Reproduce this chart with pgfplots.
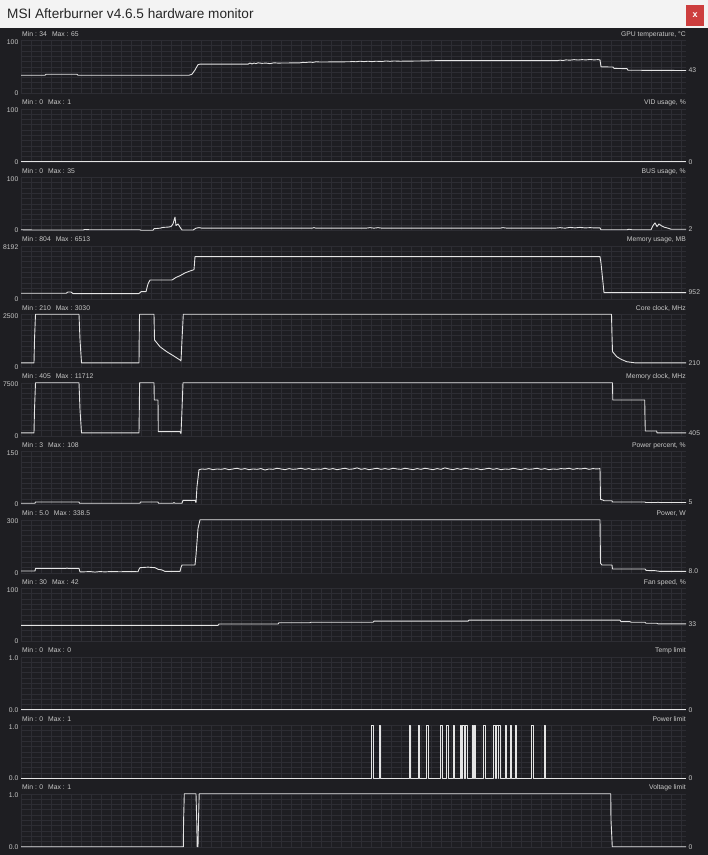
\documentclass[border=0pt]{standalone}
\usepackage{pgfplots}
\pgfplotsset{compat=1.18}
\usepackage{fontspec}
\setmainfont{Liberation Sans}
\definecolor{bgc}{RGB}{30,30,34}
\definecolor{gridc}{RGB}{45,45,51}
\definecolor{linec}{RGB}{228,228,228}
\definecolor{textc}{RGB}{200,200,200}
\definecolor{titlebar}{RGB}{243,243,243}
\definecolor{closered}{RGB}{205,62,62}
\pgfplotsset{panel/.style={width=665pt,height=53pt,scale only axis,xmin=21,xmax=686,ymin=0,
  clip=false,axis line style={draw=none},tick style={draw=none},xticklabels={},yticklabels={},
  xtick={21,31,...,681},grid=major,major grid style={draw=gridc,line width=0.45pt},anchor=south west},
  dline/.style={draw=linec,line width=0.9pt,line join=round,mark=none}}
\tikzset{lab/.style={text=textc,font=\fontsize{6.8}{8}\selectfont,inner sep=0pt}}
\newcommand{\plabels}[5]{%
  \node[lab,anchor=base west,xshift=1pt,yshift=4.2pt] at (rel axis cs:0,1) {#1};
  \node[lab,anchor=base east,yshift=4.2pt] at (rel axis cs:1,1) {#2};
  \node[lab,anchor=east,xshift=-2.5pt,yshift=-1.5pt] at (rel axis cs:0,1) {#3};
  \node[lab,anchor=east,xshift=-2.5pt] at (rel axis cs:0,0) {#4};
  \node[lab,anchor=west,xshift=2.5pt] at (axis cs:686,#5) {#5};}
\begin{document}
\begin{tikzpicture}[x=1pt,y=1pt]
\useasboundingbox (0,0) rectangle (708,855);
\fill[bgc] (0,0) rectangle (708,855);
\fill[titlebar] (0,827) rectangle (708,855);
\node[anchor=west,font=\fontsize{13.6}{15}\selectfont,text=black!85,inner sep=0pt] at (7,841) {MSI Afterburner v4.6.5 hardware monitor};
\fill[closered] (686,829) rectangle (704,850);
\node[text=white,font=\fontsize{9}{10}\selectfont\bfseries,inner sep=0pt] at (695,839.5) {x};
% 1 GPU temperature
\begin{axis}[panel,at={(21pt,761.7pt)},ymax=100,ytick={0,10,...,100}]
\addplot[dline] coordinates {(21,34)(45,34)(46,36)(77,36)(78,34)(189,34)(192,36)(195,44)(198,54)(200,55)(248,55)(250,57)(252,55.5)(254,57)(256,56)(258,57.5)(262,56.5)(266,57)(270,56)(274,57.5)(278,57)(300,57.5)(303,58.5)(305,58)(310,59)(313,58.3)(316,59.5)(320,59)(350,59.5)(352,60)(356,59.5)(360,60.5)(364,59.8)(368,60.5)(372,59.8)(376,60.5)(382,60)(386,61)(390,60.3)(394,61)(400,60.5)(420,61)(435,61.5)(557,61.5)(560,62.5)(563,61.8)(566,63)(570,62.5)(574,63.5)(578,62.8)(582,63.5)(586,63)(590,63.8)(594,63)(598,63.5)(600,63)(601,50)(613,49.5)(614,47)(627,46.5)(628,43.5)(686,43)};
\plabels{Min : 34\hspace{5pt}Max : 65}{GPU temperature, °C}{100}{0}{43}
\end{axis}
% 2 VID usage
\begin{axis}[panel,at={(21pt,693.2pt)},ymax=100,ytick={0,10,...,100}]
\addplot[dline] coordinates {(21,0)(686,0)};
\plabels{Min : 0\hspace{5pt}Max : 1}{VID usage, \%}{100}{0}{0}
\end{axis}
% 3 BUS usage
\begin{axis}[panel,at={(21pt,624.7pt)},ymax=100,ytick={0,10,...,100}]
\addplot[dline] coordinates {(21,1)(36,0.5)(83,0.5)(85,1.5)(90,1)(140,1)(141,0)(153,0)(154,3)(160,4)(163,5.5)(168,6)(171,7)(173,12)(175,25)(176,9)(178,12)(180,6)(182,0.5)(193,0.5)(196,4)(199,5)(202,4)(312,4)(314,5)(316,4)(366,4)(370,5)(374,4)(378,5)(382,4)(500,4)(503,5)(507,4)(555,4)(560,5)(565,4)(570,5.5)(575,4.5)(580,5.5)(585,4.5)(590,5)(595,4.5)(600,4.5)(601,1)(627,1)(629,2)(632,1)(651,1)(653,9)(655,14)(657,7)(659,12)(661,9)(664,6)(668,4)(671,2)(686,2)};
\plabels{Min : 0\hspace{5pt}Max : 35}{BUS usage, \%}{100}{0}{2}
\end{axis}
% 4 Memory usage
\begin{axis}[panel,at={(21pt,556.2pt)},ymax=8192,ytick={0,819.2,...,8192}]
\addplot[dline] coordinates {(21,850)(66,850)(68,1050)(71,1050)(73,804)(139,804)(141,1100)(146,1100)(148,2300)(150,2900)(172,2900)(176,3300)(180,3570)(185,4000)(190,4300)(194,4500)(195,6513)(600,6513)(601,5500)(603,2500)(604,952)(686,952)};
\plabels{Min : 804\hspace{5pt}Max : 6513}{Memory usage, MB}{8192}{0}{952}
\end{axis}
% 5 Core clock
\begin{axis}[panel,at={(21pt,487.7pt)},ymax=2500,ytick={0,250,...,2500}]
\addplot[dline] coordinates {(21,210)(34,210)(34.5,1300)(35.5,2500)(79,2500)(80,1300)(81.5,210)(139,210)(139.2,1300)(139.5,2500)(154,2500)(154.5,1290)(160,970)(166.7,736)(173.3,547)(180,344)(181,300)(182,1300)(183.3,2500)(611.5,2500)(612,1500)(612.5,740)(616.7,500)(621,380)(626.7,264)(635,210)(686,210)};
\plabels{Min : 210\hspace{5pt}Max : 3030}{Core clock, MHz}{2500}{0}{210}
\end{axis}
% 6 Memory clock
\begin{axis}[panel,at={(21pt,419.2pt)},ymax=7500,ytick={0,750,...,7500}]
\addplot[dline] coordinates {(21,405)(34,405)(34.5,3700)(35.5,7500)(79,7500)(80,3700)(81.5,405)(139,405)(139.3,3700)(139.6,7500)(154,7500)(154.3,5066)(158,5066)(158.3,580)(180,580)(181,300)(182,3700)(183,7500)(612.5,7500)(612.8,5066)(644.7,5066)(645,2500)(645.3,680)(656.7,680)(657,405)(686,405)};
\plabels{Min : 405\hspace{5pt}Max : 11712}{Memory clock, MHz}{7500}{0}{405}
\end{axis}
% 7 Power percent
\begin{axis}[panel,at={(21pt,350.7pt)},ymax=150,ytick={0,15,...,150}]
\addplot[dline] coordinates {(21,3)(35,3)(35.5,6.5)(79,6.5)(79.5,3)(140,3)(140.5,6.5)(158,6.5)(158.5,3)(173,3)(174,5)(175,3)(182,3)(183,11)(195,11)(196,5)(197,50)(199,98)(202,100)(205,99)(209,101)(213,98)(217,100)(221,99)(225,101)(229,98)(233,100)(237,102)(241,99)(245,101)(249,98)(253,100)(257,99)(261,101)(265,97)(269,100)(273,99)(277,102)(281,100)(285,98)(289,101)(293,99)(297,100)(301,102)(305,99)(309,101)(313,98)(317,100)(321,99)(325,102)(329,99)(333,101)(337,98)(341,100)(345,102)(349,99)(353,100)(357,103)(361,99)(365,101)(369,98)(373,100)(377,102)(381,99)(385,101)(389,99)(393,102)(397,100)(401,99)(405,102)(409,100)(413,98)(417,101)(421,99)(425,102)(429,100)(433,98)(437,101)(441,99)(445,103)(449,100)(453,98)(457,101)(461,99)(465,102)(469,100)(473,99)(477,101)(481,98)(485,100)(489,102)(493,99)(497,101)(501,98)(505,100)(509,99)(513,102)(517,100)(521,98)(525,101)(529,99)(533,100)(537,102)(541,99)(545,101)(549,98)(553,100)(557,99)(561,101)(565,100)(569,102)(573,99)(577,101)(581,100)(585,102)(589,99)(593,101)(597,100)(600,101)(600.5,14)(603,12)(604,10)(612,10)(612.5,6.5)(645,6.5)(645.5,5)(657,5)(658,6)(659,5)(686,5)};
\plabels{Min : 3\hspace{5pt}Max : 108}{Power percent, \%}{150}{0}{5}
\end{axis}
% 8 Power
\begin{axis}[panel,at={(21pt,282.2pt)},ymax=300,ytick={0,30,...,300}]
\addplot[dline] coordinates {(21,10)(35,10)(35.5,25)(66,25)(67,27)(68,25)(79,25)(80,5)(82,5)(90,7)(95,4)(100,7)(105,5)(110,7)(120,6)(130,7)(138,6)(139,20)(140,29)(148,32)(155,29)(158,20)(162,16)(165,8)(180,8)(181,30)(182,44)(195,44)(196,100)(198,250)(200,300)(600,300)(600.5,54)(602,44)(612,44)(612.5,21.5)(645,21.5)(646,14)(650,12)(655,12)(660,8)(686,8)};
\plabels{Min : 5.0\hspace{5pt}Max : 338.5}{Power, W}{300}{0}{8.0}
\end{axis}
% 9 Fan speed
\begin{axis}[panel,at={(21pt,213.7pt)},ymax=100,ytick={0,10,...,100}]
\addplot[dline] coordinates {(21,30)(218,30)(219,32.6)(278,32.6)(279,35)(310,35)(311,36)(373,36)(374,38)(468,38)(469,40)(620,40)(621,37)(630,37)(631,36)(645,36)(646,34)(657,34)(658,33)(686,33)};
\plabels{Min : 30\hspace{5pt}Max : 42}{Fan speed, \%}{100}{0}{33}
\end{axis}
% 10 Temp limit
\begin{axis}[panel,at={(21pt,145.2pt)},ymax=1,ytick={0,0.1,...,1}]
\addplot[dline] coordinates {(21,0)(686,0)};
\plabels{Min : 0\hspace{5pt}Max : 0}{Temp limit}{1.0}{0.0}{0}
\end{axis}
% 11 Power limit
\begin{axis}[panel,at={(21pt,76.7pt)},ymax=1,ytick={0,0.1,...,1}]
\addplot[dline,line width=0.7pt] coordinates {(21,0)(371.7,0)(371.7,1)(372.9,1)(372.9,0)(379.1,0)(379.1,1)(380.3,1)(380.3,0)(409.4,0)(409.4,1)(410.6,1)(410.6,0)(418.4,0)(418.4,1)(419.6,1)(419.6,0)(426.7,0)(426.7,1)(427.9,1)(427.9,0)(440.1,0)(440.1,1)(442.6,1)(442.6,0)(446.7,0)(446.7,1)(447.9,1)(447.9,0)(453.1,0)(453.1,1)(454.3,1)(454.3,0)(460.1,0)(460.1,1)(461.3,1)(461.3,0)(462.7,0)(462.7,1)(463.9,1)(463.9,0)(465.7,0)(465.7,1)(466.9,1)(466.9,0)(472.4,0)(472.4,1)(473.6,1)(473.6,0)(474.4,0)(474.4,1)(475.6,1)(475.6,0)(483.7,0)(483.7,1)(484.9,1)(484.9,0)(493.7,0)(493.7,1)(494.9,1)(494.9,0)(495.1,0)(495.1,1)(496.3,1)(496.3,0)(496.7,0)(496.7,1)(497.9,1)(497.9,0)(498.7,0)(498.7,1)(499.9,1)(499.9,0)(505.4,0)(505.4,1)(506.6,1)(506.6,0)(510.4,0)(510.4,1)(511.6,1)(511.6,0)(515.1,0)(515.1,1)(516.3,1)(516.3,0)(531.7,0)(531.7,1)(532.9,1)(532.9,0)(544.4,0)(544.4,1)(545.6,1)(545.6,0)(686,0)};
\plabels{Min : 0\hspace{5pt}Max : 1}{Power limit}{1.0}{0.0}{0}
\end{axis}
% 12 Voltage limit
\begin{axis}[panel,at={(21pt,8.2pt)},ymax=1,ytick={0,0.1,...,1}]
\addplot[dline] coordinates {(21,0)(183.3,0)(183.6,0.5)(184.3,1)(196,1)(196.7,0.5)(197.2,0)(198,0)(198.5,0.5)(199.2,1)(610.7,1)(611,0.5)(612.3,0)(686,0)};
\plabels{Min : 0\hspace{5pt}Max : 1}{Voltage limit}{1.0}{0.0}{0}
\end{axis}
\end{tikzpicture}
\end{document}
